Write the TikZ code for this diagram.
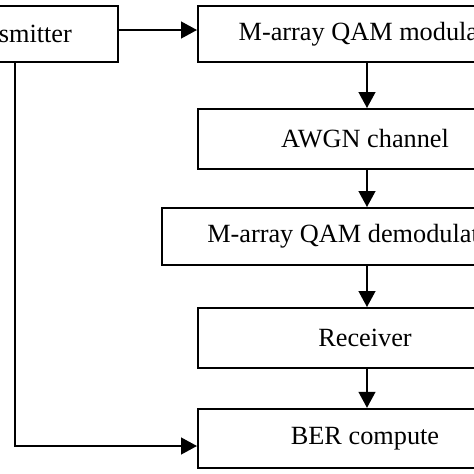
\documentclass[tikz,border=0pt]{standalone}
\usepackage{fontspec}
\setmainfont{Liberation Serif}
\usetikzlibrary{%
  arrows.meta,%
  positioning,%
  calc
}

\begin{document}
\begin{tikzpicture}[
  font=\fontsize{18.7}{22}\selectfont, >={Triangle[length=4mm,width=4.2mm]},
  line width=1.4pt,
  block/.style={rectangle, minimum height=14.8mm, minimum width=83.5mm, draw=black, inner sep=0pt},
  wideblock/.style={rectangle, minimum height=14.2mm, draw=black, inner sep=0pt}
]
\useasboundingbox (0,0) rectangle (11.85,-11.85);
\clip (0,0) rectangle (11.85,-11.85);

\node[wideblock, minimum width=53.5mm] (tx) at (0.275,-0.85) {Transmitter};
\node[wideblock, minimum width=87.5mm] (mod) at (9.325,-0.85) {M-array QAM modulator};
\node[block, minimum height=15mm] (awgn) at (9.125,-3.475) {AWGN channel};
\node[wideblock, minimum width=96mm] (demod) at (8.85,-5.91) {M-array QAM demodulator};
\node[block, minimum height=15mm] (rx) at (9.125,-8.45) {Receiver};
\node[block] (ber) at (9.125,-10.96) {BER compute};

\coordinate (col) at (9.175,0);
\coordinate (back) at (0.375,0);

\draw[->] ([yshift=1mm]tx.east) -- ([yshift=1mm]mod.west);
\draw[->] (mod.south -| col) -- (awgn.north -| col);
\draw[->] (awgn.south -| col) -- (demod.north -| col);
\draw[->] (demod.south -| col) -- (rx.north -| col);
\draw[->] (rx.south -| col) -- (ber.north -| col);
\draw[->] (tx.south -| back) |- ([yshift=-1.9mm]ber.west);
\end{tikzpicture}
\end{document}
